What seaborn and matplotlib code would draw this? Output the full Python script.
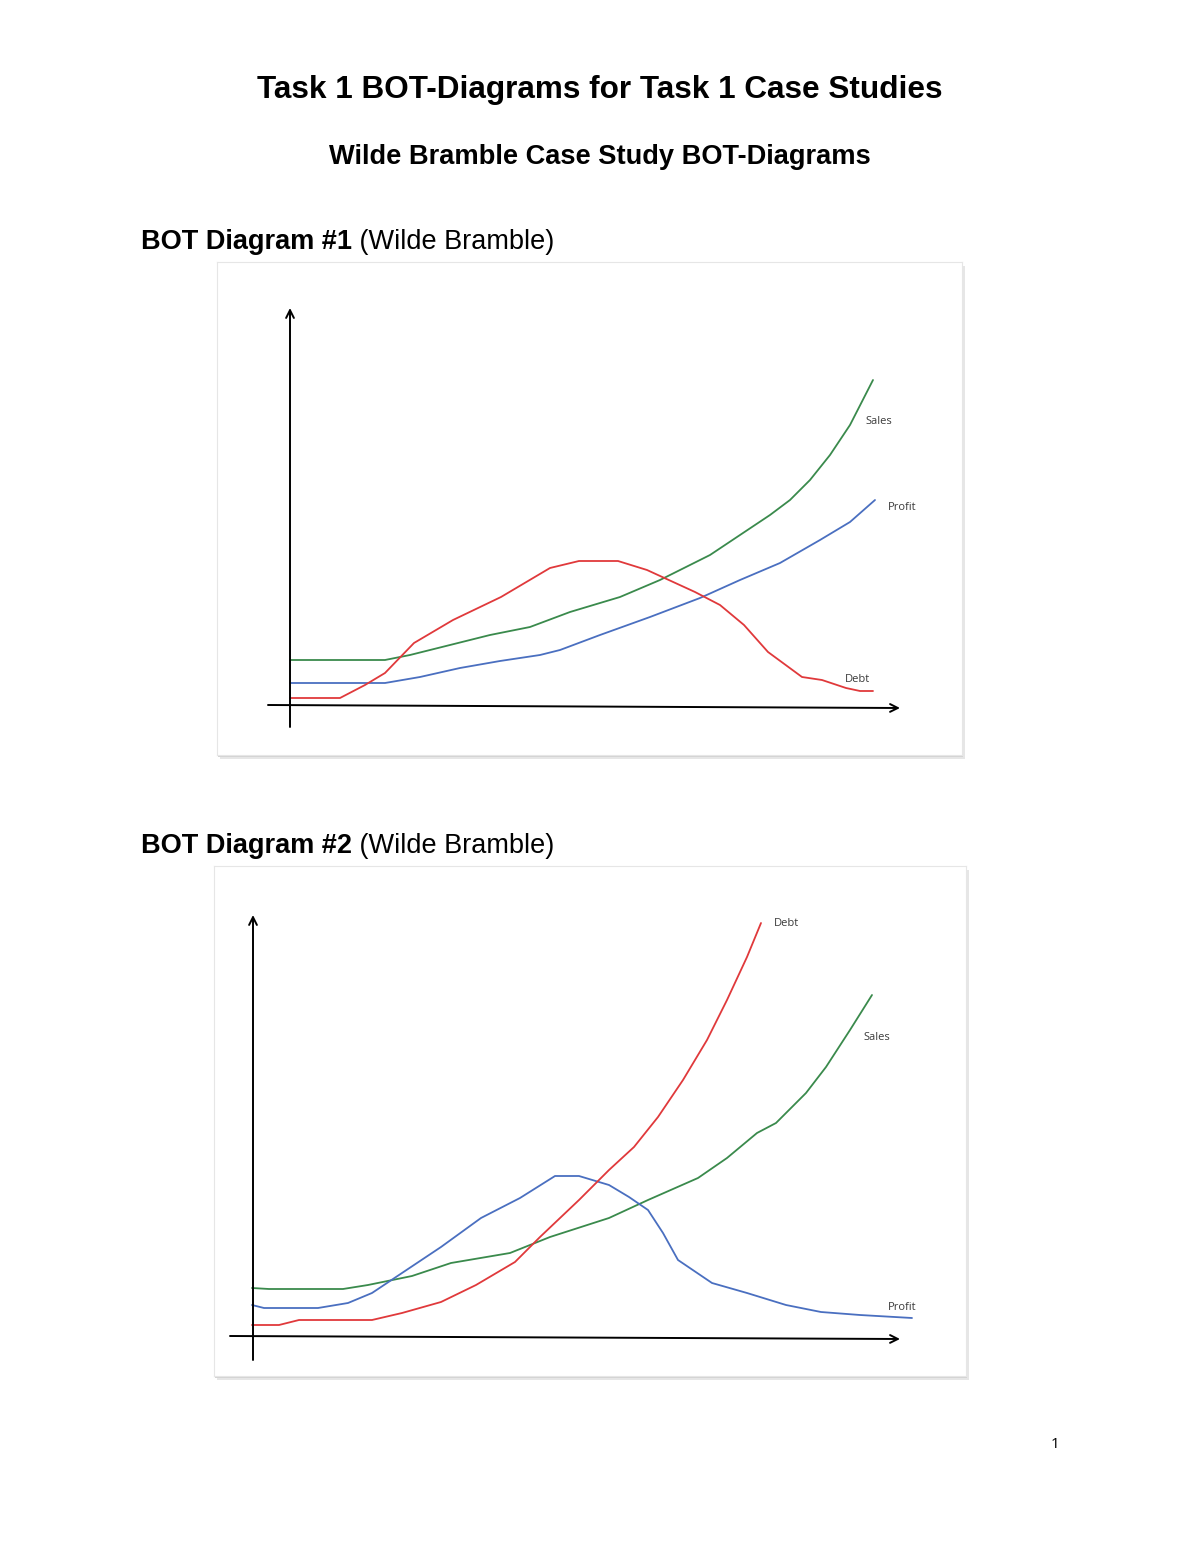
import matplotlib
matplotlib.use("Agg")
import matplotlib.pyplot as plt
import pandas as pd
import seaborn as sns
from matplotlib.patches import Rectangle
from matplotlib.text import Annotation

# ---- data (time units, value units; origin at the drawn axes) ----
# Diagram 1
d1_sales_t = [0, 9.5, 12, 16, 20, 24, 28, 33, 37, 42, 45, 48, 50, 52, 54, 56, 58.3]
d1_sales_v = [4.6, 4.6, 5.1, 6.1, 7.1, 7.9, 9.4, 10.9, 12.6, 15.1, 17.1, 19.1, 20.6, 22.6, 25.1, 28.1, 32.6]
d1_profit_t = [0, 9.5, 13, 17, 21, 25, 27, 31, 36, 41, 45, 49, 53, 56, 58.5]
d1_profit_v = [2.3, 2.3, 2.9, 3.8, 4.5, 5.1, 5.6, 7.1, 8.9, 10.8, 12.6, 14.3, 16.6, 18.4, 20.6]
d1_debt_t = [0, 5, 7.5, 9.5, 12.4, 16.3, 21.1, 26, 28.9, 32.8, 35.7, 40.5, 43, 45.4, 47.8, 51.2, 53.2, 55.6, 57, 58.3]
d1_debt_v = [0.8, 0.8, 2.1, 3.3, 6.3, 8.6, 10.9, 13.8, 14.5, 14.5, 13.6, 11.4, 10.1, 8.1, 5.4, 2.9, 2.6, 1.8, 1.5, 1.5]

# Diagram 2
d2_sales_t = [0, 1.7, 9.1, 11.6, 16, 19.9, 25.8, 29.8, 35.7, 39.6, 44.6, 47.5, 50.5, 52.4, 55.4, 57.4, 59.8, 62]
d2_sales_v = [5.0, 4.9, 4.9, 5.3, 6.2, 7.5, 8.5, 10.1, 12, 13.8, 16, 18, 20.5, 21.5, 24.5, 27.1, 30.8, 34.3]
d2_profit_t = [0, 1.2, 6.6, 9.6, 12, 15, 18.9, 22.9, 26.8, 30.3, 32.7, 35.7, 37.7, 39.6, 41.1, 42.6, 46, 49.5, 53.4, 56.9, 60.8, 66]
d2_profit_v = [3.3, 3.0, 3.0, 3.5, 4.5, 6.5, 9.1, 12, 14, 16.2, 16.2, 15.3, 14.1, 12.8, 10.5, 7.8, 5.5, 4.5, 3.3, 2.6, 2.3, 2.0]
d2_debt_t = [0, 2.7, 4.7, 12, 15, 18.9, 22.4, 26.3, 28.8, 32.7, 35.7, 38.2, 40.6, 43.1, 45.5, 47.5, 49.5, 50.9]
d2_debt_v = [1.3, 1.3, 1.8, 1.8, 2.5, 3.6, 5.3, 7.6, 10.1, 13.8, 16.8, 19.1, 22.1, 25.8, 29.8, 33.8, 38.1, 41.5]

series_names = ["Sales", "Profit", "Debt"]
colors = {"Sales": "#3a8a4c", "Profit": "#4a6fc0", "Debt": "#e0393b"}

d1_labels = {"Sales": (58.9, 28.4), "Profit": (61.2, 19.9), "Debt": (56.7, 2.7)}
d2_labels = {"Debt": (53.4, 41.4), "Sales": (62.5, 30.1), "Profit": (65.0, 3.1)}


def long_df(pairs):
    frames = []
    for name, (t, v) in pairs.items():
        frames.append(pd.DataFrame({"time": t, "value": v, "series": name}))
    return pd.concat(frames, ignore_index=True)


df1 = long_df({"Sales": (d1_sales_t, d1_sales_v), "Profit": (d1_profit_t, d1_profit_v),
               "Debt": (d1_debt_t, d1_debt_v)})
df2 = long_df({"Sales": (d2_sales_t, d2_sales_v), "Profit": (d2_profit_t, d2_profit_v),
               "Debt": (d2_debt_t, d2_debt_v)})

sns.set_style("white")
plt.rcParams["font.family"] = ["Liberation Sans", "DejaVu Sans"]
plt.rcParams["text.color"] = "black"

W, H = 1200, 1553
fig = plt.figure(figsize=(W / 100, H / 100), dpi=100)


def fx(px):
    return px / W


def fy(py):
    return 1 - py / H


# ---- page text ----
fig.text(0.5, fy(90), "Task 1 BOT-Diagrams for Task 1 Case Studies", ha="center", va="center",
         fontsize=22.7, fontweight="bold")
fig.text(0.5, fy(157), "Wilde Bramble Case Study BOT-Diagrams", ha="center", va="center",
         fontsize=19.6, fontweight="bold")


def heading(py, num):
    t = fig.text(fx(141), fy(py), f"BOT Diagram #{num}", ha="left", va="center",
                 fontsize=19.5, fontweight="bold")
    fig.add_artist(Annotation(" (Wilde Bramble)", xy=(1, 0), xycoords=t, ha="left", va="bottom",
                              fontsize=19.5))


heading(242, 1)
heading(846, 2)
fig.text(fx(1055), fy(1445), "1", ha="center", va="center", fontsize=11, family="Open Sans")


def diagram(box, origin, df, labels, yaxis, xaxis):
    x0, y0, x1, y1 = box
    ox, oy = origin
    # soft shadow
    for off, c in [(4, "#e6e6e6"), (2, "#d4d4d4")]:
        fig.patches.append(Rectangle((fx(x0 + off - 1), fy(y1 + off)), (x1 - x0) / W, (y1 - y0) / H,
                                     transform=fig.transFigure, facecolor=c, edgecolor="none", zorder=0))
    ax = fig.add_axes([fx(x0), fy(y1), (x1 - x0) / W, (y1 - y0) / H])
    ax.set_facecolor("white")
    ax.set_zorder(1)
    ax.set_xlim((x0 - ox) / 10, (x1 - ox) / 10)
    ax.set_ylim((oy - y1) / 10, (oy - y0) / 10)
    for s in ax.spines.values():
        s.set_color("#e6e6e6")
        s.set_linewidth(0.8)
    ax.set_xticks([])
    ax.set_yticks([])

    sns.lineplot(data=df, x="time", y="value", hue="series", palette=colors, hue_order=series_names,
                 estimator=None, sort=False, linewidth=1.3, legend=False, ax=ax)
    ax.set_xlabel("")
    ax.set_ylabel("")

    arrow = dict(arrowstyle="->", lw=1.4, color="black", shrinkA=0, shrinkB=0, mutation_scale=14)
    ax.annotate("", xy=yaxis[1], xytext=yaxis[0], arrowprops=arrow)
    ax.annotate("", xy=xaxis[1], xytext=xaxis[0], arrowprops=arrow)

    for name, (lx, ly) in labels.items():
        ax.text(lx, ly, name, fontsize=8, color="#3a3a3a", ha="center", va="center", family="Open Sans")
    return ax


diagram((217, 262, 962, 755), (290, 706), df1, d1_labels,
        ((0, -2.1), (0, 39.8)), ((-2.2, 0.1), (61.0, -0.2)))
diagram((214, 866, 966, 1376), (252, 1338), df2, d2_labels,
        ((0.1, -2.2), (0.1, 42.3)), ((-2.2, 0.2), (64.8, -0.1)))

fig.savefig("out.png", dpi=100)
